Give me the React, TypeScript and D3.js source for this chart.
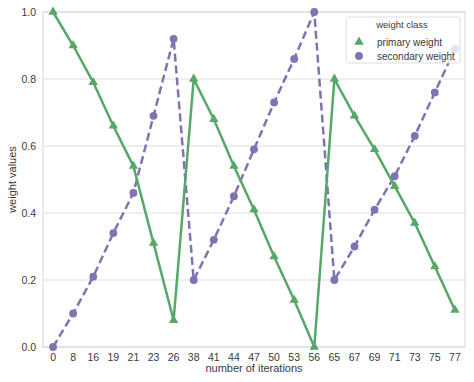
import React from "react";
import * as d3 from "d3";

const iterations = ["0","8","16","19","21","23","26","38","41","44","47","50","53","56","65","67","69","71","73","75","77"];
const primaryWeight = [1.0,0.9,0.79,0.66,0.54,0.31,0.08,0.80,0.68,0.54,0.41,0.27,0.14,0.0,0.80,0.69,0.59,0.48,0.37,0.24,0.11];
const secondaryWeight = [0.0,0.10,0.21,0.34,0.46,0.69,0.92,0.20,0.32,0.45,0.59,0.73,0.86,1.0,0.20,0.30,0.41,0.51,0.63,0.76,0.89];
const yTicks = [0, 0.2, 0.4, 0.6, 0.8, 1.0];
const seriesNames = ["primary weight", "secondary weight"];
const legendTitle = "weight class";

const W = 474, H = 382;
const M = { left: 43, right: 9, top: 12, bottom: 35 };
const GREEN = "#55a868";
const PURPLE = "#8172b2";
const TXT = "#3a3a3a";
const FONT = "'Liberation Sans', Arial, sans-serif";

export default function App() {
  const x = d3.scalePoint<string>().domain(iterations).range([M.left, W - M.right]).padding(0.5);
  const y = d3.scaleLinear().domain([0, 1]).range([H - M.bottom, M.top]);
  const line = d3.line<number>().x((_, i) => x(iterations[i])!).y((d) => y(d));
  const tri = d3.symbol().type(d3.symbolTriangle).size(38)()!;
  const circ = d3.symbol().type(d3.symbolCircle).size(48)()!;
  return (
    <svg width={W} height={H} style={{ position: "absolute", left: 0, top: 0, background: "#fff" }} fontFamily={FONT}>
      {yTicks.map((t) => (
        <g key={t}>
          <line x1={M.left} x2={W - M.right} y1={y(t)} y2={y(t)} stroke="#dddddd" strokeWidth={1} />
          <text x={M.left - 7} y={y(t)} dy="0.35em" textAnchor="end" fontSize={10.5} fill={TXT}>{t.toFixed(1)}</text>
        </g>
      ))}
      <rect x={M.left} y={M.top} width={W - M.left - M.right} height={H - M.top - M.bottom} fill="none" stroke="#dddddd" strokeWidth={1.2} />
      {iterations.map((c) => (
        <text key={c} x={x(c)} y={H - M.bottom + 14} textAnchor="middle" fontSize={10.5} fill={TXT}>{c}</text>
      ))}
      <text x={(M.left + W - M.right) / 2} y={H - 10} textAnchor="middle" fontSize={11} fill={TXT}>number of iterations</text>
      <text transform={`translate(16,${(M.top + H - M.bottom) / 2}) rotate(-90)`} textAnchor="middle" fontSize={11} fill={TXT}>weight values</text>
      <path d={line(secondaryWeight)!} fill="none" stroke={PURPLE} strokeWidth={2.5} strokeDasharray="8,4" />
      {secondaryWeight.map((v, i) => (
        <path key={"s" + i} d={circ} transform={`translate(${x(iterations[i])},${y(v)})`} fill={PURPLE} />
      ))}
      <path d={line(primaryWeight)!} fill="none" stroke={GREEN} strokeWidth={2.5} />
      {primaryWeight.map((v, i) => (
        <path key={"p" + i} d={tri} transform={`translate(${x(iterations[i])},${y(v)})`} fill={GREEN} />
      ))}
      <g transform="translate(346,17)">
        <rect x={0} y={0} width={114} height={46} fill="#fff" fillOpacity={0.8} stroke="#dddddd" rx={2} />
        <text x={56} y={11} textAnchor="middle" fontSize={9.5} fill={TXT}>{legendTitle}</text>
        <path d={tri} transform="translate(13,25)" fill={GREEN} />
        <text x={31} y={25} dy="0.35em" fontSize={10} fill={TXT}>{seriesNames[0]}</text>
        <path d={circ} transform="translate(13,39)" fill={PURPLE} />
        <text x={31} y={39} dy="0.35em" fontSize={10} fill={TXT}>{seriesNames[1]}</text>
      </g>
    </svg>
  );
}
